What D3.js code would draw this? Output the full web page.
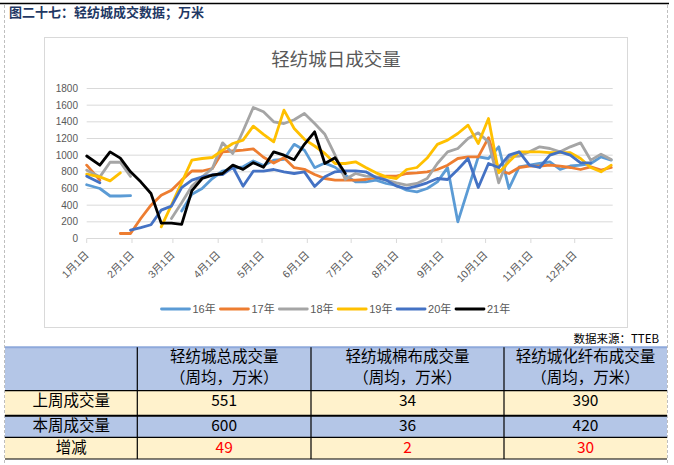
<!DOCTYPE html>
<html>
<head>
<meta charset="utf-8">
<script src="https://cdn.jsdelivr.net/npm/d3@7"></script>
<style>
  body { margin: 0; background: #fff; }
  svg { display: block; }
</style>
</head>
<body>
<script>
// weekly dates, all years laid on one calendar (2021) for the shared x axis
const weekDates = ['2021-01-01', '2021-01-10', '2021-01-17', '2021-01-24', '2021-01-31',
  '2021-02-07', '2021-02-14', '2021-02-21', '2021-02-28',
  '2021-03-07', '2021-03-14', '2021-03-21', '2021-03-28',
  '2021-04-04', '2021-04-11', '2021-04-18', '2021-04-25',
  '2021-05-02', '2021-05-09', '2021-05-16', '2021-05-23', '2021-05-30',
  '2021-06-06', '2021-06-13', '2021-06-20', '2021-06-27',
  '2021-07-04', '2021-07-11', '2021-07-18', '2021-07-25',
  '2021-08-01', '2021-08-08', '2021-08-15', '2021-08-22', '2021-08-29',
  '2021-09-05', '2021-09-12', '2021-09-19', '2021-09-26',
  '2021-10-03', '2021-10-10', '2021-10-17', '2021-10-24', '2021-10-31',
  '2021-11-07', '2021-11-14', '2021-11-21', '2021-11-28',
  '2021-12-05', '2021-12-12', '2021-12-19', '2021-12-26'];

const yearNames = ['16年', '17年', '18年', '19年', '20年', '21年'];

// volume per week, 万米 (null = no trading)
const y16 = [645, 600, 510, 510, 515, null, null, null, null, 330, 530, 600, 720, 810, 840, 860,
  930, 875, 940, 950, 1130, 1060, 850, 905, 855, 760, 680, 680, 700, 660, 636, 580, 560, 600,
  680, 850, 200, 590, 980, 960, 1100, 600, 860, 880, 900, 920, 830, 870, 880, 900, 980, 940];
const y17 = [880, 700, null, 60, 60, 240, 400, 520, 580, 700, 810, 810, 840, 1040, 1050, 1060,
  1075, 975, 905, 970, 850, 830, 768, 720, 700, 700, 700, 708, 732, 748, 748, 780, 788, 800,
  828, 880, 960, 980, 980, 1210, 820, 780, 852, 868, 868, 880, 868, 852, 828, 860, 820, 852];
const y18 = [820, 740, 915, 915, 745, null, null, null, 240, 430, 630, 740, 840, 1148, 1020, 1290,
  1572, 1520, 1400, 1380, 1425, 1500, 1380, 1250, 1000, 710, 780, 748, 740, 700, 668, 640, 660,
  720, 900, 1040, 1080, 1200, 1268, 1160, 668, 980, 988, 1040, 1100, 1080, 1040, 1100, 1148, 940,
  1012, 948];
const y19 = [772, 740, 692, 788, null, null, null, 140, 400, 670, 940, 960, 972, 1060, 1140, 1180,
  1348, 1250, 1160, 1540, 1320, 1190, 1110, 1020, 900, 900, 920, 852, 788, 740, 720, 828, 852,
  965, 1130, 1180, 1260, 1360, 1140, 1440, 788, 920, 1040, 1040, 1040, 1030, 1030, 1030, 960,
  852, 800, 880];
const y20 = [748, 668, null, null, 100, 130, 165, 340, 388, 610, 700, 740, 765, 768, 858, 628,
  808, 808, 828, 800, 780, 800, 625, 740, 800, 812, 812, 800, 732, 700, 628, 600, 628, 668, 720,
  708, 828, 960, 612, 900, 852, 1000, 1040, 880, 852, 1000, 1040, 1000, 908, 908, null, null];
const y21 = [990, 880, 1040, 965, 800, 680, 540, 185, 185, 170, 575, 720, 760, 780, 880, 830,
  910, 855, 1040, 1000, 945, 1130, 1280, 900, 970, 780, null, null, null, null, null, null, null,
  null, null, null, null, null, null, null, null, null, null, null, null, null, null, null, null,
  null, null, null];

const yTicks = [0, 200, 400, 600, 800, 1000, 1200, 1400, 1600, 1800];
const monthLabels = ['1月1日', '2月1日', '3月1日', '4月1日', '5月1日', '6月1日',
  '7月1日', '8月1日', '9月1日', '10月1日', '11月1日', '12月1日'];

// table under the chart
const tableHeads = [['轻纺城总成交量', '（周均，万米）'], ['轻纺城棉布成交量', '（周均，万米）'],
  ['轻纺城化纤布成交量', '（周均，万米）']];
const rowLabels = ['上周成交量', '本周成交量', '增减'];
const lastWeek = [551, 34, 390];
const thisWeek = [600, 36, 420];
const weekChange = [49, 2, 30];

const colors = ['#5B9BD5', '#ED7D31', '#A5A5A5', '#FFC000', '#4472C4', '#000000'];
const latin = '"Liberation Sans", "Noto Sans CJK SC", sans-serif';
const cjk = '"Noto Sans CJK SC", sans-serif';

const width = 674;
const height = 465;

const svg = d3.select('body')
  .append('svg')
  .attr('width', width)
  .attr('height', height);

// page frame: black rule on top, dashed grey sides
svg.append('line')
  .attr('x1', 0).attr('x2', 669).attr('y1', 3.5).attr('y2', 3.5)
  .attr('stroke', '#000').attr('stroke-width', 1.5);
[4.5, 667.5].forEach(xx => {
  svg.append('line')
    .attr('x1', xx).attr('x2', xx).attr('y1', 5).attr('y2', height)
    .attr('stroke', '#BFBFBF').attr('stroke-dasharray', '3,2');
});

svg.append('text')
  .attr('x', 9)
  .attr('y', 17)
  .style('font-family', cjk)
  .style('font-size', '13px')
  .style('font-weight', 'bold')
  .attr('fill', '#1F3864')
  .text('图二十七：轻纺城成交数据；万米');

// chart area box
svg.append('rect')
  .attr('x', 44.5).attr('y', 37.5)
  .attr('width', 583).attr('height', 290)
  .attr('fill', '#fff').attr('stroke', '#D9D9D9');

svg.append('text')
  .attr('x', 336)
  .attr('y', 66)
  .attr('text-anchor', 'middle')
  .style('font-family', cjk)
  .style('font-size', '18.5px')
  .attr('fill', '#595959')
  .text('轻纺城日成交量');

// scales
const parse = d3.utcParse('%Y-%m-%d');
const dates = weekDates.map(parse);

const xScale = d3.scaleUtc()
  .domain([parse('2021-01-01'), parse('2021-12-27')])
  .range([86.7, 612.7]);

const yScale = d3.scaleLinear()
  .domain([0, 1800])
  .range([238.5, 88.5]);

// gridlines + y labels
svg.append('g')
  .selectAll('line')
  .data(yTicks)
  .join('line')
  .attr('x1', xScale.range()[0])
  .attr('x2', xScale.range()[1])
  .attr('y1', d => yScale(d))
  .attr('y2', d => yScale(d))
  .attr('stroke', '#D9D9D9');

svg.append('g')
  .selectAll('text')
  .data(yTicks)
  .join('text')
  .attr('x', 78)
  .attr('y', d => yScale(d))
  .attr('dy', '0.35em')
  .attr('text-anchor', 'end')
  .style('font-family', latin)
  .style('font-size', '10px')
  .attr('fill', '#595959')
  .text(d => d);

// x axis: month ticks with rotated labels
const monthTicks = d3.utcMonth.range(parse('2021-01-01'), parse('2021-12-02'));

svg.append('g')
  .selectAll('line')
  .data(monthTicks)
  .join('line')
  .attr('x1', d => xScale(d))
  .attr('x2', d => xScale(d))
  .attr('y1', yScale(0))
  .attr('y2', yScale(0) + 4.5)
  .attr('stroke', '#D9D9D9');

svg.append('g')
  .selectAll('text')
  .data(monthTicks)
  .join('text')
  .attr('transform', d => `translate(${xScale(d)},253) rotate(-45)`)
  .attr('dy', '0.35em')
  .attr('text-anchor', 'end')
  .style('font-family', latin)
  .style('font-size', '10.5px')
  .attr('fill', '#595959')
  .text((d, i) => monthLabels[i]);

// one line per year
const seriesData = [y16, y17, y18, y19, y20, y21].map((vals, k) => ({
  name: yearNames[k],
  color: colors[k],
  points: vals.map((v, i) => ({ date: dates[i], v: v }))
}));

const line = d3.line()
  .defined(d => d.v != null)
  .x(d => xScale(d.date))
  .y(d => yScale(d.v));

svg.append('g')
  .selectAll('path')
  .data(seriesData)
  .join('path')
  .attr('d', d => line(d.points))
  .attr('fill', 'none')
  .attr('stroke', d => d.color)
  .attr('stroke-width', 2.8)
  .attr('stroke-linejoin', 'round')
  .attr('stroke-linecap', 'round');

// legend
const legend = svg.append('g')
  .selectAll('g')
  .data(seriesData)
  .join('g')
  .attr('transform', (d, i) => `translate(${161.5 + i * 58.9},309)`);

legend.append('line')
  .attr('x1', 0).attr('x2', 28)
  .attr('stroke', d => d.color)
  .attr('stroke-width', 2.8)
  .attr('stroke-linecap', 'round');

legend.append('text')
  .attr('x', 31)
  .attr('dy', '0.35em')
  .style('font-family', latin)
  .style('font-size', '11px')
  .attr('fill', '#595959')
  .text(d => d.name);

svg.append('text')
  .attr('x', 659)
  .attr('y', 343)
  .attr('text-anchor', 'end')
  .style('font-family', cjk)
  .style('font-size', '11.5px')
  .attr('fill', '#000')
  .text('数据来源：TTEB');

// table
const colEdges = [5, 137.3, 311, 504, 667];
const rowEdges = [347.3, 390.7, 415.7, 437.3, 459];
const rowFills = ['#B4C6E7', '#FFF2CC', '#B4C6E7', '#FFF2CC'];

const table = svg.append('g');

table.selectAll('rect')
  .data(rowFills)
  .join('rect')
  .attr('x', colEdges[0])
  .attr('y', (d, i) => rowEdges[i])
  .attr('width', colEdges[4] - colEdges[0])
  .attr('height', (d, i) => rowEdges[i + 1] - rowEdges[i])
  .attr('fill', d => d);

// borders
table.append('line')
  .attr('x1', colEdges[0]).attr('x2', colEdges[4])
  .attr('y1', rowEdges[0]).attr('y2', rowEdges[0])
  .attr('stroke', '#8EA9DB').attr('stroke-width', 2);
rowEdges.slice(1).forEach((ry, i) => {
  table.append('line')
    .attr('x1', colEdges[0]).attr('x2', colEdges[4])
    .attr('y1', ry).attr('y2', ry)
    .attr('stroke', '#000').attr('stroke-width', i === 1 ? 2 : 1.2);
});
colEdges.slice(1, 4).forEach(cx => {
  table.append('line')
    .attr('x1', cx).attr('x2', cx)
    .attr('y1', rowEdges[0]).attr('y2', rowEdges[4])
    .attr('stroke', '#000').attr('stroke-width', 1.2);
});

const colMid = i => (colEdges[i] + colEdges[i + 1]) / 2;
const cellText = (cx, cy, txt, fill) => {
  table.append('text')
    .attr('x', cx)
    .attr('y', cy)
    .attr('dy', '0.35em')
    .attr('text-anchor', 'middle')
    .style('font-family', cjk)
    .style('font-size', '15.5px')
    .attr('fill', fill)
    .text(txt);
};

tableHeads.forEach((h, i) => {
  cellText(colMid(i + 1), 357, h[0], '#000');
  cellText(colMid(i + 1), 378, h[1], '#000');
});
const rowMids = [401, 426, 448];
rowLabels.forEach((r, i) => cellText(colMid(0), rowMids[i], r, '#000'));
lastWeek.forEach((v, i) => cellText(colMid(i + 1), rowMids[0], v, '#000'));
thisWeek.forEach((v, i) => cellText(colMid(i + 1), rowMids[1], v, '#000'));
weekChange.forEach((v, i) => cellText(colMid(i + 1), rowMids[2], v, '#FF0000'));
</script>
</body>
</html>
